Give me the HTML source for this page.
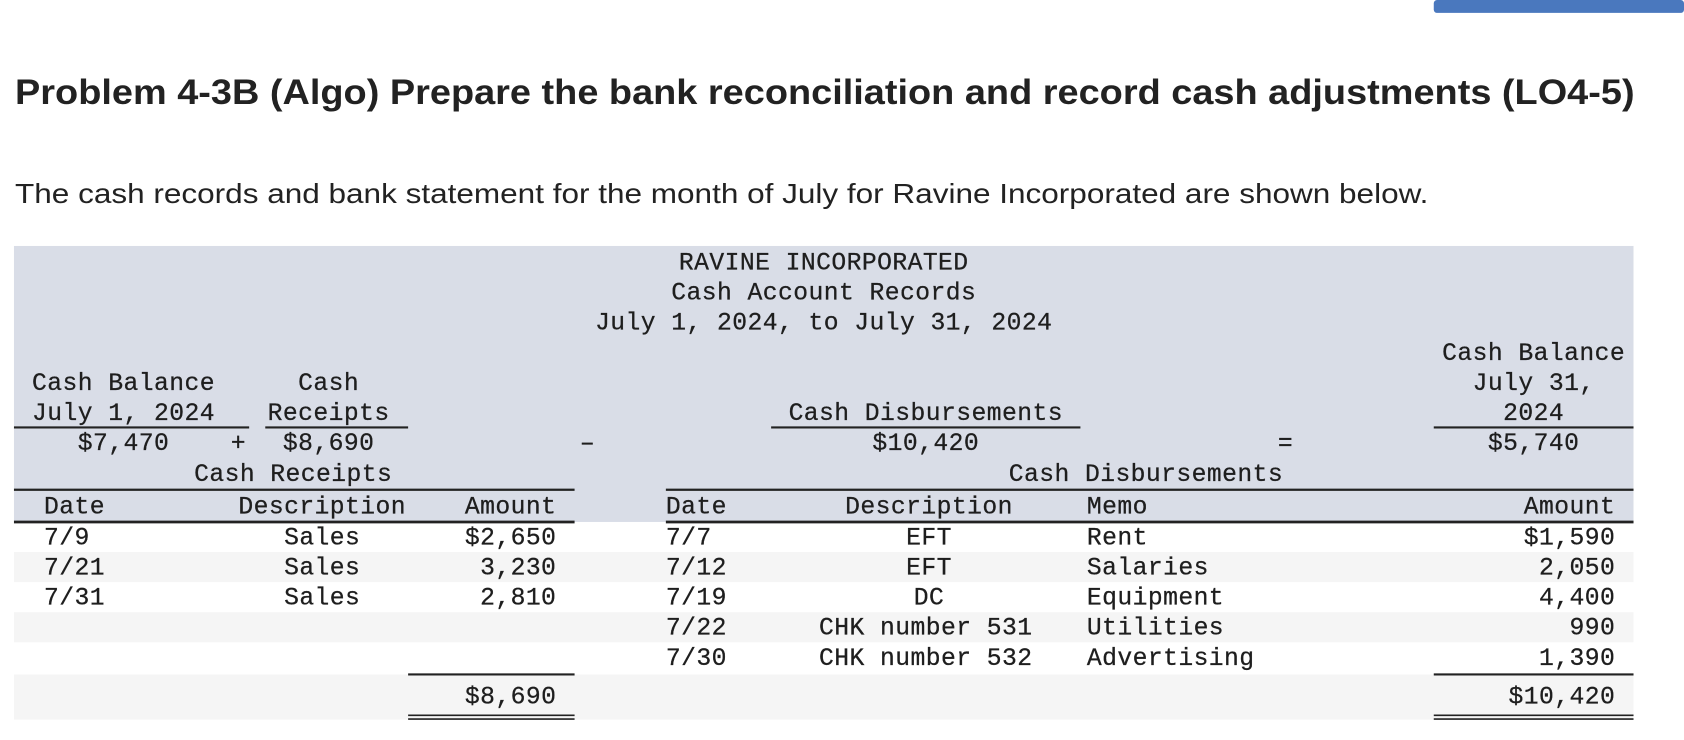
<!DOCTYPE html>
<html><head><meta charset="utf-8"><style>
html,body{margin:0;padding:0;background:#fff;width:1684px;height:740px;overflow:hidden}
svg{display:block}
.m{font-family:"Liberation Mono",monospace;font-size:23px;fill:#1e1e1e;letter-spacing:0.4px;stroke:#1e1e1e;stroke-width:0.25px}
.s{font-family:"Liberation Sans",sans-serif;fill:#222}
</style></head><body>
<svg width="1684" height="740" viewBox="0 0 1568 689" preserveAspectRatio="none">
<rect x="1335" y="0" width="233" height="12" rx="3" fill="#4a78be"/>
<text class="s" x="14" y="97" font-size="33" font-weight="bold" textLength="1508" lengthAdjust="spacingAndGlyphs">Problem 4-3B (Algo) Prepare the bank reconciliation and record cash adjustments (LO4-5)</text>
<text class="s" x="14" y="189" font-size="26" textLength="1316" lengthAdjust="spacingAndGlyphs">The cash records and bank statement for the month of July for Ravine Incorporated are shown below.</text>

<g>
<rect x="13" y="229" width="1508" height="257" fill="#d9dde7"/>
<rect x="13" y="514" width="1508" height="28" fill="#f5f5f5"/>
<rect x="13" y="570" width="1508" height="28" fill="#f5f5f5"/>
<rect x="13" y="628" width="1508" height="42" fill="#f5f5f5"/>

<g text-anchor="middle">
<text class="m" x="767" y="251">RAVINE INCORPORATED</text>
<text class="m" x="767" y="279">Cash Account Records</text>
<text class="m" x="767" y="307">July 1, 2024, to July 31, 2024</text>
</g>

<g text-anchor="middle">
<text class="m" x="115" y="363">Cash Balance</text>
<text class="m" x="115" y="391">July 1, 2024</text>
<text class="m" x="306" y="363">Cash</text>
<text class="m" x="306" y="391">Receipts</text>
<text class="m" x="862" y="391">Cash Disbursements</text>
<text class="m" x="1428" y="335">Cash Balance</text>
<text class="m" x="1428" y="363">July 31,</text>
<text class="m" x="1428" y="391">2024</text>
<text class="m" x="115" y="419">$7,470</text>
<text class="m" x="222" y="419">+</text>
<text class="m" x="306" y="419">$8,690</text>
<text class="m" x="547" y="419">–</text>
<text class="m" x="862" y="419">$10,420</text>
<text class="m" x="1197" y="419">=</text>
<text class="m" x="1428" y="419">$5,740</text>
<text class="m" x="273" y="448">Cash Receipts</text>
<text class="m" x="1067" y="448">Cash Disbursements</text>
</g>
<g stroke="#222" stroke-width="2">
<line x1="13" y1="398" x2="232" y2="398"/>
<line x1="247" y1="398" x2="380" y2="398"/>
<line x1="718" y1="398" x2="1006" y2="398"/>
<line x1="1335" y1="398" x2="1521" y2="398"/>
<line x1="13" y1="456" x2="535" y2="456"/>
<line x1="620" y1="456" x2="1521" y2="456"/>
<line x1="13" y1="486" x2="535" y2="486" stroke-width="2.5"/>
<line x1="620" y1="486" x2="1521" y2="486" stroke-width="2.5"/>
<line x1="380" y1="628" x2="535" y2="628"/>
<line x1="1335" y1="628" x2="1521" y2="628"/>
<line x1="380" y1="666" x2="535" y2="666" stroke-width="1.5"/>
<line x1="380" y1="669.5" x2="535" y2="669.5" stroke-width="1.5"/>
<line x1="1335" y1="666" x2="1521" y2="666" stroke-width="1.5"/>
<line x1="1335" y1="669.5" x2="1521" y2="669.5" stroke-width="1.5"/>
</g>

<g>
<text class="m" x="41" y="478">Date</text>
<text class="m" x="300" y="478" text-anchor="middle">Description</text>
<text class="m" x="518" y="478" text-anchor="end">Amount</text>
<text class="m" x="41" y="507">7/9</text><text class="m" x="300" y="507" text-anchor="middle">Sales</text><text class="m" x="518" y="507" text-anchor="end">$2,650</text>
<text class="m" x="41" y="535">7/21</text><text class="m" x="300" y="535" text-anchor="middle">Sales</text><text class="m" x="518" y="535" text-anchor="end">3,230</text>
<text class="m" x="41" y="563">7/31</text><text class="m" x="300" y="563" text-anchor="middle">Sales</text><text class="m" x="518" y="563" text-anchor="end">2,810</text>
<text class="m" x="518" y="655" text-anchor="end">$8,690</text>
</g>

<g>
<text class="m" x="620" y="478">Date</text>
<text class="m" x="865" y="478" text-anchor="middle">Description</text>
<text class="m" x="1012" y="478">Memo</text>
<text class="m" x="1504" y="478" text-anchor="end">Amount</text>
<text class="m" x="620" y="507">7/7</text><text class="m" x="865" y="507" text-anchor="middle">EFT</text><text class="m" x="1012" y="507">Rent</text><text class="m" x="1504" y="507" text-anchor="end">$1,590</text>
<text class="m" x="620" y="535">7/12</text><text class="m" x="865" y="535" text-anchor="middle">EFT</text><text class="m" x="1012" y="535">Salaries</text><text class="m" x="1504" y="535" text-anchor="end">2,050</text>
<text class="m" x="620" y="563">7/19</text><text class="m" x="865" y="563" text-anchor="middle">DC</text><text class="m" x="1012" y="563">Equipment</text><text class="m" x="1504" y="563" text-anchor="end">4,400</text>
<text class="m" x="620" y="591">7/22</text><text class="m" x="862" y="591" text-anchor="middle">CHK number 531</text><text class="m" x="1012" y="591">Utilities</text><text class="m" x="1504" y="591" text-anchor="end">990</text>
<text class="m" x="620" y="619">7/30</text><text class="m" x="862" y="619" text-anchor="middle">CHK number 532</text><text class="m" x="1012" y="619">Advertising</text><text class="m" x="1504" y="619" text-anchor="end">1,390</text>
<text class="m" x="1504" y="655" text-anchor="end">$10,420</text>
</g>
</g>
</svg>
</body></html>
